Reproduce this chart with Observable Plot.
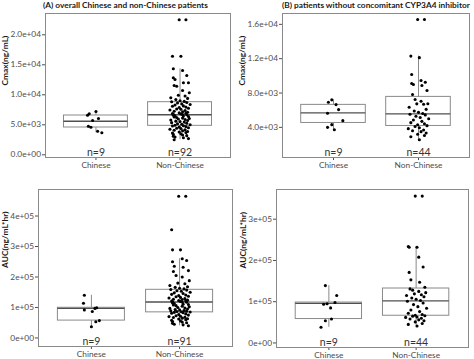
<!DOCTYPE html>
<html><head><meta charset="utf-8">
<script src="https://cdn.jsdelivr.net/npm/d3@7"></script>
<script src="https://cdn.jsdelivr.net/npm/@observablehq/plot@0.6"></script>
<style>
body{margin:0;background:#fff;}
#wrap{position:relative;width:474px;height:359px;overflow:hidden;font-family:Lato,"Open Sans",sans-serif;background:#fff;}
.panel{position:absolute;}
.title{position:absolute;font-weight:bold;font-size:8.3px;color:#1a1a1a;white-space:nowrap;line-height:1;}
</style></head><body><div id="wrap"></div>
<script>
// ---------- data ----------
const categories = ["Chinese", "Non-Chinese"];
const titles = ["(A) overall Chinese and non-Chinese patients", "(B) patients without concomitant CYP3A4 inhibitor"];
const yLabels = ["Cmax(ng/mL)", "Cmax(ng/mL)", "AUC(ng/mL*hr)", "AUC(ng/mL*hr)"];

// shared horizontal jitter offsets (category units) for the Non-Chinese points
const jitterNC = [-0.01, 0.07, -0.09, 0.01, -0.08, 0.03, 0.08, -0.08, -0.06, 0.04, 0.10, -0.07, -0.04, 0.03, 0.11, -0.02, 0.06, -0.11, 0.09, -0.05, 0.00, 0.05, -0.10, 0.08, -0.03, 0.02, 0.12, -0.06, 0.04, -0.09, 0.07, -0.01, 0.10, -0.04, 0.01, -0.12, 0.06, -0.07, 0.03, 0.09];

// Panel A: Cmax, overall
const chA = [6600, 6830, 7220, 5720, 6050, 4770, 4600, 3930, 3670];
const chJitA = [-0.10, -0.08, 0.00, -0.04, 0.03, -0.09, -0.06, 0.02, 0.07];
const ncA = [22500, 22500, 16430, 16430, 14330, 14050, 13220, 12830, 12550, 12000, 12000, 11550, 11430, 10720, 10330, 9930, 9800, 9500, 9400, 9200, 9000, 8900, 8850,
  8720, 8650, 8480, 8390, 8310, 8150, 8080, 7950, 7880, 7760, 7640, 7590, 7460, 7380, 7250, 7180, 7090, 6990, 6940, 6880, 6810, 6760, 6700,
  6670,
  6600, 6520, 6450, 6380, 6300, 6210, 6120, 6050, 5960, 5880, 5790, 5720, 5610, 5530, 5450, 5360, 5270, 5180, 5090, 5010, 4920, 4850,
  4790, 4700, 4620, 4510, 4430, 4380, 4250, 4160, 4080, 3990, 3880, 3790, 3700, 3620, 3510, 3400, 3300, 3190, 3080, 2950, 2830, 2700, 2520];
const q1A = [4550, 4830], medA = [5600, 6670], q3A = [6550, 8770], loA = [3670, 2520], hiA = [7220, 14330];
const nA = ["n=9", "n=92"];
const yTicksA = [0, 5000, 10000, 15000, 20000];
const yTickLabelsA = ["0.0e+00", "5.0e+03", "1.0e+04", "1.5e+04", "2.0e+04"];

// Panel B: Cmax, without CYP3A4 inhibitor
const chB = [6924, 7205, 6655, 6070, 5637, 4784, 4316, 4000, 3731];
const chJitB = [-0.06, -0.02, 0.03, 0.06, -0.07, 0.11, -0.02, -0.07, 0.01];
const ncB = [16560, 16560, 12300, 12120, 10160, 9460, 9260, 9110, 8990, 8880, 8290, 7830,
  7240, 7050, 6760, 6740, 6700, 6350, 6100, 5900, 5750, 5620,
  5520, 5450, 5300, 5150, 5000, 4850, 4700, 4550, 4420, 4300, 4200, 4100, 3950, 3850, 3700, 3600, 3500, 3350, 3200, 3050, 2900, 2560];
const q1B = [4515, 4164], medB = [5684, 5567], q3B = [6620, 7550], loB = [3731, 2560], hiB = [7205, 12300];
const nB = ["n=9", "n=44"];
const yTicksB = [4000, 8000, 12000, 16000];
const yTickLabelsB = ["4.0e+03", "8.0e+03", "1.2e+04", "1.6e+04"];

// Panel C: AUC, overall
const chC = [140000, 114000, 92000, 87000, 97000, 99000, 57000, 53000, 37000];
const chJitC = [-0.08, -0.09, -0.08, 0.01, 0.04, 0.06, 0.09, 0.05, 0.00];
const ncC = [465000, 465000, 355000, 289000, 289000, 260000, 254000, 250000, 235000, 232000, 221000, 218000, 205000, 200000, 188000, 180000, 178000, 172000, 168000, 166000, 163000, 161000, 159000,
  157000, 155000, 153000, 150000, 148000, 146000, 143000, 141000, 139000, 137000, 135000, 133000, 131000, 129000, 127000, 126000, 124000, 123000, 122000, 121000, 120000, 119000,
  118000,
  117000, 115000, 113000, 111000, 110000, 108000, 106000, 104000, 102000, 100000, 98000, 97000, 95000, 93000, 92000, 90000, 89000, 88000, 87000, 86000, 85000, 84000,
  83000, 81000, 79000, 77000, 75000, 73000, 71000, 70000, 68000, 67000, 65000, 63000, 62000, 60000, 58000, 56000, 54000, 52000, 50000, 48000, 45000, 43000, 40000];
const q1C = [57000, 84000], medC = [97000, 118000], q3C = [99000, 158000], loC = [37000, 40000], hiC = [140000, 260000];
const nC = ["n=9", "n=91"];
const yTicksC = [0, 100000, 200000, 300000, 400000];
const yTickLabelsC = ["0e+00", "1e+05", "2e+05", "3e+05", "4e+05"];

// Panel D: AUC, without CYP3A4 inhibitor
const chD = [139000, 115000, 94000, 95000, 98000, 85000, 54000, 58000, 38000];
const chJitD = [-0.04, 0.09, -0.06, -0.02, 0.07, 0.02, -0.04, 0.03, -0.09];
const ncD = [356000, 356000, 234000, 232000, 232000, 208000, 184000, 171000, 153000, 147000, 135000,
  131000, 128000, 125000, 122000, 119000, 117000, 115000, 112000, 109000, 106000, 103000,
  101000, 97000, 93000, 88000, 84000, 80000, 76000, 72000, 69000, 67000, 66000, 65000, 63000, 62000, 60000, 58000, 56000, 54000, 51000, 47000, 45000, 41000];
const q1D = [58000, 66000], medD = [96000, 102000], q3D = [98000, 132000], loD = [38000, 41000], hiD = [139000, 234000];
const nD = ["n=9", "n=44"];
const yTicksD = [0, 100000, 200000, 300000];
const yTickLabelsD = ["0e+00", "1e+05", "2e+05", "3e+05"];

// ---------- drawing ----------
const boxHalf = 0.38;
const grayLine = "#8a8a8a";

function panel(o) {
  const pts = [];
  o.ch.forEach((v, i) => pts.push({x: 1 + o.chJit[i], y: v}));
  o.nc.forEach((v, i) => pts.push({x: 2 + jitterNC[i % jitterNC.length], y: v}));
  const stats = categories.map((c, i) => ({pos: i + 1, q1: o.q1[i], med: o.med[i], q3: o.q3[i], lo: o.lo[i], hi: o.hi[i], n: o.n[i]}));
  return Plot.plot({
    width: o.w, height: o.h,
    marginLeft: o.m[0], marginRight: o.m[1], marginTop: o.m[2], marginBottom: o.m[3],
    style: {fontFamily: "Lato, 'Open Sans', sans-serif", fontSize: "8.3px", color: "#4d4d4d", background: "white", overflow: "visible"},
    x: {type: "linear", domain: [0.4, 2.6], ticks: [1, 2], tickFormat: d => categories[Math.round(d) - 1], tickSize: 3, tickPadding: 1.5, label: null},
    y: {domain: o.domain, ticks: o.yTicks, tickFormat: d => o.yTickLabels[o.yTicks.indexOf(d)], tickSize: 3, tickPadding: 1.5, label: null},
    marks: [
      Plot.ruleX(stats, {x: "pos", y1: "lo", y2: "q1", stroke: grayLine, strokeWidth: 1}),
      Plot.ruleX(stats, {x: "pos", y1: "q3", y2: "hi", stroke: grayLine, strokeWidth: 1}),
      Plot.rect(stats, {x1: d => d.pos - boxHalf, x2: d => d.pos + boxHalf, y1: "q1", y2: "q3", fill: "white", stroke: grayLine, strokeWidth: 1}),
      Plot.ruleY(stats, {x1: d => d.pos - boxHalf, x2: d => d.pos + boxHalf, y: "med", stroke: "#505050", strokeWidth: 1.4}),
      Plot.dot(pts, {x: "x", y: "y", r: 1.55, fill: "black", stroke: "none"}),
      Plot.text(stats, {x: "pos", text: "n", frameAnchor: "bottom", dy: -5, lineAnchor: "middle", fontSize: 10.5, fill: "#333"}),
      Plot.text([o.yLabel], {text: d => d, frameAnchor: "left", dx: o.yLabDx, rotate: -90, fontSize: 8.4, fontWeight: "bold", fill: "#1a1a1a"}),
      Plot.frame({stroke: grayLine, strokeWidth: 1})
    ]
  });
}

const wrap = document.getElementById("wrap");
const configs = [
  {left: 0, top: 0, w: 237, h: 180, m: [45, 7, 13, 23], domain: [-450, 23550], ch: chA, chJit: chJitA, nc: ncA, q1: q1A, med: medA, q3: q3A, lo: loA, hi: hiA, n: nA, yTicks: yTicksA, yTickLabels: yTickLabelsA, yLabel: yLabels[0], yLabDx: -40},
  {left: 237, top: 0, w: 237, h: 180, m: [45, 5, 13, 23], domain: [491, 17263], ch: chB, chJit: chJitB, nc: ncB, q1: q1B, med: medB, q3: q3B, lo: loB, hi: hiB, n: nB, yTicks: yTicksB, yTickLabels: yTickLabelsB, yLabel: yLabels[1], yLabDx: -40},
  {left: 0, top: 180, w: 237, h: 179, m: [38, 5, 9, 13], domain: [-28000, 487000], ch: chC, chJit: chJitC, nc: ncC, q1: q1C, med: medC, q3: q3C, lo: loC, hi: hiC, n: nC, yTicks: yTicksC, yTickLabels: yTickLabelsC, yLabel: yLabels[2], yLabDx: -33},
  {left: 237, top: 180, w: 237, h: 179, m: [39, 6, 9, 12], domain: [-11000, 372000], ch: chD, chJit: chJitD, nc: ncD, q1: q1D, med: medD, q3: q3D, lo: loD, hi: hiD, n: nD, yTicks: yTicksD, yTickLabels: yTickLabelsD, yLabel: yLabels[3], yLabDx: -33.5}
];
configs.forEach(c => {
  const div = document.createElement("div");
  div.className = "panel";
  div.style.left = c.left + "px";
  div.style.top = c.top + "px";
  div.appendChild(panel(c));
  wrap.appendChild(div);
});
[[43, 1], [282, 1]].forEach(([x, y], i) => {
  const t = document.createElement("div");
  t.className = "title";
  t.style.left = x + "px";
  t.style.top = y + "px";
  t.textContent = titles[i];
  wrap.appendChild(t);
});
</script></body></html>
